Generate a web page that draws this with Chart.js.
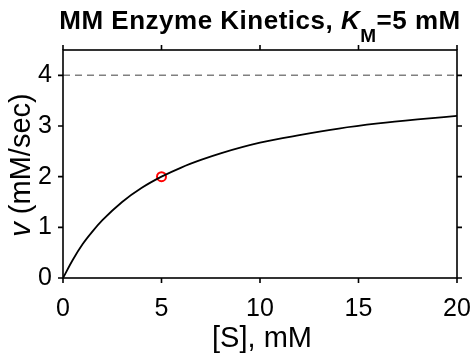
<!DOCTYPE html>
<html><head><meta charset="utf-8">
<script src="https://cdn.jsdelivr.net/npm/chart.js@4"></script>
<style>html,body{margin:0;padding:0;background:#fff}#c{display:block}</style>
</head><body>
<canvas id="c" width="474" height="355"></canvas>
<script>
const substrate = [0,0.5,1,1.5,2,3,4,5,6,7,8,10,12,14,16,18,20];
const velocity  = [0,0.36,0.67,0.92,1.14,1.5,1.78,2.0,2.18,2.33,2.46,2.67,2.82,2.95,3.05,3.13,3.2];
const vmaxLine = [{x:0,y:4},{x:20,y:4}];
const kmPoint = [{x:5,y:2}];
const xTicks = [0,5,10,15,20];
const yTicks = [0,1,2,3,4];
const FONT = "'Liberation Sans', Arial, sans-serif";

const frame = {
  id:'frame',
  afterDraw(chart){
    const {ctx, chartArea:a, scales:{x,y}} = chart;
    ctx.save();
    ctx.strokeStyle='#000'; ctx.lineWidth=1.6;
    ctx.strokeRect(a.left,a.top,a.right-a.left,a.bottom-a.top);
    const tl=5;
    ctx.beginPath();
    xTicks.forEach(v=>{const px=x.getPixelForValue(v);
      ctx.moveTo(px,a.bottom);ctx.lineTo(px,a.bottom+tl);
      ctx.moveTo(px,a.top);ctx.lineTo(px,a.top-tl);});
    yTicks.forEach(v=>{const py=y.getPixelForValue(v);
      ctx.moveTo(a.left,py);ctx.lineTo(a.left-tl,py);
      ctx.moveTo(a.right,py);ctx.lineTo(a.right+tl,py);});
    ctx.stroke();
    // title
    ctx.fillStyle='#000'; ctx.textBaseline='alphabetic';
    ctx.letterSpacing='0.5px';
    const parts=[['MM Enzyme Kinetics, ','bold 26px '+FONT,0],['K','italic bold 26px '+FONT,0],['M','bold 19px '+FONT,13],['=5 mM','bold 26px '+FONT,0]];
    let w=0; parts.forEach(p=>{ctx.font=p[1];w+=ctx.measureText(p[0]).width;});
    let cx=(a.left+a.right)/2-w/2; const by=28.5;
    ctx.textAlign='left';
    parts.forEach(p=>{ctx.font=p[1];ctx.fillText(p[0],cx,by+p[2]);cx+=ctx.measureText(p[0]).width;});
    ctx.letterSpacing='0px';
    // x label
    ctx.font='29px '+FONT; ctx.textAlign='center';
    ctx.fillText('[S], mM',(a.left+a.right)/2+2,347);
    // y label
    ctx.save(); ctx.translate(30,(a.top+a.bottom)/2+1); ctx.rotate(-Math.PI/2);
    ctx.font='italic 29px '+FONT; const vw=ctx.measureText('v ').width;
    ctx.font='29px '+FONT; const rw=ctx.measureText('(mM/sec)').width;
    let sx=-(vw+rw)/2; ctx.textAlign='left';
    ctx.font='italic 29px '+FONT; ctx.fillText('v ',sx,0);
    ctx.font='29px '+FONT; ctx.fillText('(mM/sec)',sx+vw,0);
    ctx.restore();
    ctx.restore();
  }
};

new Chart(document.getElementById('c'),{
  type:'scatter',
  data:{datasets:[
    {data:vmaxLine,showLine:true,borderColor:'#808080',borderWidth:1.5,borderDash:[7,5],pointRadius:0},
    {data:substrate.map((s,i)=>({x:s,y:velocity[i]})),showLine:true,borderColor:'#000',borderWidth:1.8,pointRadius:0,cubicInterpolationMode:'monotone'},
    {data:kmPoint,pointRadius:4.5,pointBorderWidth:2,pointBorderColor:'#ff0000',pointBackgroundColor:'rgba(0,0,0,0)',showLine:false}
  ]},
  options:{
    responsive:false,animation:false,
    layout:{padding:{left:0,top:50,right:17,bottom:0}},
    plugins:{legend:{display:false},tooltip:{enabled:false}},
    scales:{
      x:{type:'linear',min:0,max:20,
        afterFit:s=>{s.height=77;s.paddingLeft=0;s.paddingRight=0;},
        afterBuildTicks:s=>{s.ticks=xTicks.map(v=>({value:v}));},
        grid:{display:false,drawTicks:false},border:{display:false},
        ticks:{color:'#000',font:{family:FONT,size:25},padding:16,maxRotation:0}},
      y:{type:'linear',min:0,max:4.5,
        afterFit:s=>{s.width=63;s.paddingTop=0;s.paddingBottom=0;},
        afterBuildTicks:s=>{s.ticks=yTicks.map(v=>({value:v}));},
        grid:{display:false,drawTicks:false},border:{display:false},
        ticks:{color:'#000',font:{family:FONT,size:25},padding:11}}
    }
  },
  plugins:[frame]
});
</script>
</body></html>
